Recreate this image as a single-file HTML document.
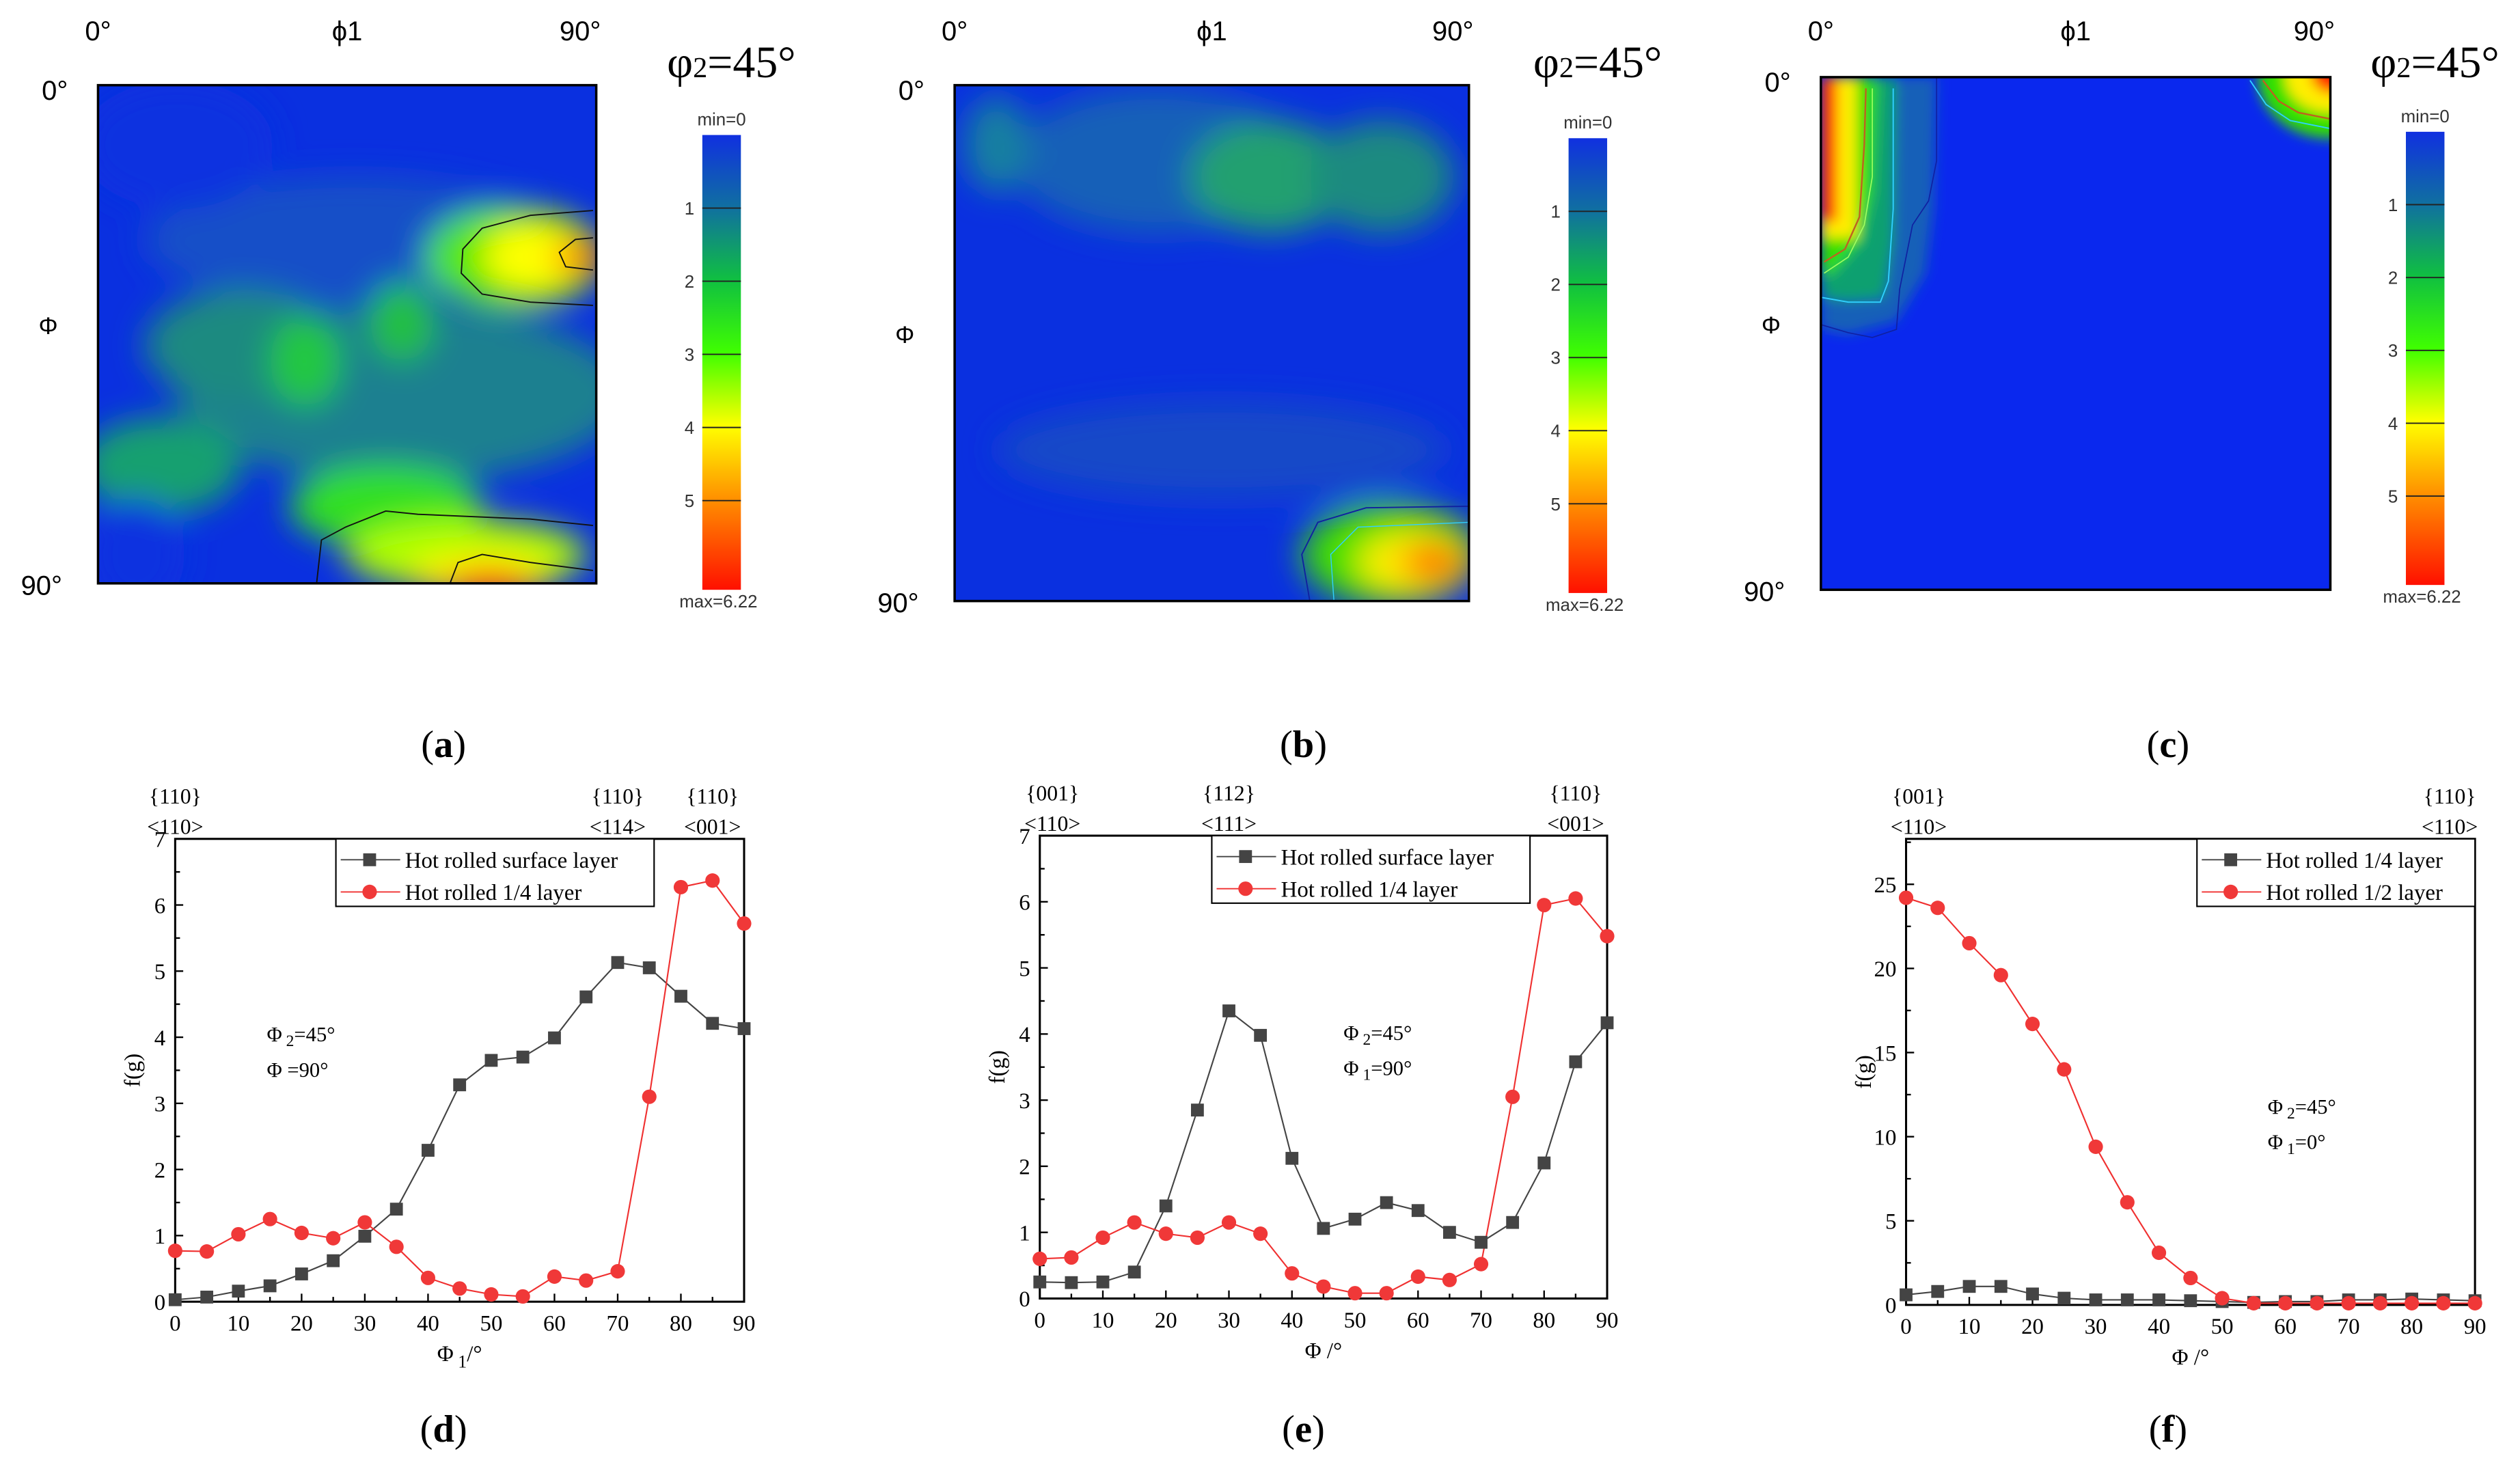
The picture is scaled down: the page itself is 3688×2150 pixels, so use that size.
<!DOCTYPE html>
<html><head><meta charset="utf-8">
<style>
html,body{margin:0;padding:0;background:#fff;}
#root{width:1568px;height:909px;transform:scale(2.35204);transform-origin:0 0;position:relative;}
svg text{font-family:"Liberation Serif",serif;}
.sans{font-family:"Liberation Sans",sans-serif;}
</style></head>
<body>
<div id="root">
<svg id="fig" width="1568" height="909" viewBox="0 0 1568 909" xmlns="http://www.w3.org/2000/svg">
<defs>
<linearGradient id="cbar" x1="0" y1="0" x2="0" y2="1">
<stop offset="0" stop-color="#1030e0"/>
<stop offset="0.16" stop-color="#1070a0"/>
<stop offset="0.32" stop-color="#10c040"/>
<stop offset="0.48" stop-color="#40ff00"/>
<stop offset="0.64" stop-color="#ffff00"/>
<stop offset="0.8" stop-color="#ff9000"/>
<stop offset="1" stop-color="#ff1000"/>
</linearGradient>
<filter id="blur" x="-50%" y="-50%" width="200%" height="200%"><feGaussianBlur stdDeviation="10"/></filter>
<filter id="blurS" x="-50%" y="-50%" width="200%" height="200%"><feGaussianBlur stdDeviation="6"/></filter>
<filter id="blur2" x="-50%" y="-50%" width="200%" height="200%"><feGaussianBlur stdDeviation="4"/></filter>
<clipPath id="clipA"><rect x="61" y="53" width="310" height="310"/></clipPath>
<clipPath id="clipB"><rect x="594" y="53" width="320" height="321"/></clipPath>
<clipPath id="clipC"><rect x="1133" y="48" width="317" height="319"/></clipPath>
</defs>

<!-- Heatmap A -->
<g>
<g clip-path="url(#clipA)">
<rect x="61" y="53" width="310" height="310" fill="#0a30e0"/>
<g filter="url(#blur)">
<ellipse cx="220" cy="150" rx="130" ry="40" fill="#1450c8"/>
<ellipse cx="250" cy="245" rx="140" ry="55" fill="#1a8090"/>
<ellipse cx="150" cy="215" rx="60" ry="35" fill="#1a8a80"/>
<ellipse cx="100" cy="290" rx="50" ry="30" fill="#18a070"/>
<ellipse cx="190" cy="225" rx="22" ry="28" fill="#20c840"/>
<ellipse cx="250" cy="200" rx="20" ry="25" fill="#20c040"/>
<ellipse cx="320" cy="160" rx="55" ry="32" fill="#50e800"/>
<ellipse cx="335" cy="160" rx="35" ry="22" fill="#ffff00"/>
<ellipse cx="360" cy="160" rx="16" ry="12" fill="#ff9000"/>
<ellipse cx="240" cy="315" rx="60" ry="25" fill="#30e020"/>
<ellipse cx="290" cy="345" rx="75" ry="22" fill="#b0ff00"/>
<ellipse cx="300" cy="358" rx="45" ry="14" fill="#ffee00"/>
<ellipse cx="305" cy="365" rx="25" ry="9" fill="#ff2000"/>
<ellipse cx="85" cy="345" rx="30" ry="35" fill="#0a30e0"/>
<ellipse cx="110" cy="90" rx="60" ry="40" fill="#0a30e0"/>
</g>
<path d="M369,131 L330,134 L300,142 L288,155 L287,170 L300,183 L330,188 L369,190" fill="none" stroke="#111" stroke-width="0.8"/>
<path d="M369,148 L358,149 L348,157 L352,166 L369,168" fill="none" stroke="#111" stroke-width="0.8"/>
<path d="M197,363 L200,336 L215,328 L240,318 L260,320 L330,323 L369,327" fill="none" stroke="#111" stroke-width="0.8"/>
<path d="M280,363 L285,350 L300,345 L330,350 L369,355" fill="none" stroke="#111" stroke-width="0.8"/>
</g>
<rect x="61" y="53" width="310" height="310" fill="none" stroke="#000" stroke-width="1.5"/>
</g>

<!-- Heatmap B -->
<g>
<g clip-path="url(#clipB)">
<rect x="594" y="53" width="320" height="321" fill="#0a30e0"/>
<g filter="url(#blur)">
<ellipse cx="720" cy="100" rx="90" ry="45" fill="#1660b8"/>
<ellipse cx="790" cy="110" rx="50" ry="35" fill="#20a070"/>
<ellipse cx="860" cy="110" rx="45" ry="35" fill="#1a8a80"/>
<ellipse cx="620" cy="90" rx="20" ry="30" fill="#1880a0"/>
<ellipse cx="760" cy="280" rx="140" ry="30" fill="#1448c8"/>
<ellipse cx="865" cy="345" rx="55" ry="32" fill="#40e000"/>
<ellipse cx="880" cy="350" rx="35" ry="20" fill="#ffee00"/>
<ellipse cx="892" cy="350" rx="20" ry="12" fill="#ff7000"/>
</g>
<path d="M815,374 L810,345 L820,325 L850,316 L914,315" fill="none" stroke="#1020a0" stroke-width="0.8"/>
<path d="M830,374 L828,345 L845,328 L914,325" fill="none" stroke="#30d0ff" stroke-width="0.6"/>
</g>
<rect x="594" y="53" width="320" height="321" fill="none" stroke="#000" stroke-width="1.5"/>
</g>

<!-- Heatmap C -->
<g>
<g clip-path="url(#clipC)">
<rect x="1133" y="48" width="317" height="319" fill="#0a28ee"/>
<g filter="url(#blur2)">
<path d="M1133,48 L1205,48 L1203,130 L1198,170 L1180,200 L1150,208 L1133,205 Z" fill="#1460b8"/>
<path d="M1133,48 L1180,48 L1178,150 L1172,185 L1150,187 L1133,185 Z" fill="#10a070"/>
<path d="M1133,48 L1168,48 L1165,120 L1158,150 L1140,170 L1133,172 Z" fill="#30e000"/>
<rect x="1133" y="48" width="22" height="100" fill="#ffee00"/>
<rect x="1133" y="48" width="10" height="90" fill="#ff3000"/>
<ellipse cx="1450" cy="48" rx="45" ry="38" fill="#30e000"/>
<ellipse cx="1450" cy="48" rx="28" ry="22" fill="#ffee00"/>
<ellipse cx="1452" cy="46" rx="14" ry="12" fill="#ff2000"/>
</g>
<path d="M1133,202 L1150,207 L1165,210 L1180,205 L1182,180 L1190,140 L1200,125 L1205,100 L1205,48" fill="none" stroke="#1020a0" stroke-width="0.7"/>
<path d="M1133,185 L1150,188 L1170,188 L1175,175 L1178,130 L1178,55" fill="none" stroke="#30d0ff" stroke-width="0.8"/>
<path d="M1135,170 L1150,160 L1160,140 L1165,110 L1165,55" fill="none" stroke="#a0ff60" stroke-width="0.7"/>
<path d="M1135,163 L1148,155 L1157,135 L1160,90 L1161,55" fill="none" stroke="#c06020" stroke-width="1"/>
<path d="M1400,50 L1410,65 L1425,75 L1450,80" fill="none" stroke="#30d0ff" stroke-width="0.8"/>
<path d="M1408,50 L1418,63 L1430,70 L1450,74" fill="none" stroke="#c06020" stroke-width="1"/>
</g>
<rect x="1133" y="48" width="317" height="319" fill="none" stroke="#000" stroke-width="1.5"/>
</g>

<g id="mapLabels"></g>
<g id="charts"></g>
</svg>
</div>
<script>
// ---- chart data ----
const xCats = [0,5,10,15,20,25,30,35,40,45,50,55,60,65,70,75,80,85,90];
const dSurface = [0.03,0.07,0.16,0.24,0.42,0.62,0.99,1.4,2.29,3.28,3.65,3.7,3.99,4.61,5.13,5.05,4.62,4.21,4.13];
const dQuarter = [0.77,0.76,1.02,1.25,1.04,0.96,1.2,0.83,0.36,0.2,0.11,0.08,0.38,0.32,0.46,3.1,6.27,6.37,5.72];
const eSurface = [0.25,0.24,0.25,0.4,1.4,2.85,4.35,3.98,2.12,1.06,1.2,1.45,1.33,1.0,0.85,1.15,2.05,3.58,4.17];
const eQuarter = [0.6,0.62,0.92,1.15,0.98,0.92,1.15,0.98,0.38,0.18,0.08,0.08,0.33,0.28,0.52,3.05,5.95,6.05,5.48];
const fQuarter = [0.6,0.8,1.1,1.1,0.65,0.4,0.3,0.3,0.3,0.25,0.2,0.15,0.2,0.2,0.3,0.3,0.35,0.3,0.25];
const fHalf = [24.2,23.6,21.5,19.6,16.7,14.0,9.4,6.1,3.1,1.6,0.4,0.1,0.1,0.1,0.1,0.1,0.1,0.1,0.1];
const xTicks = [0,10,20,30,40,50,60,70,80,90];
const yTicksDE = [0,1,2,3,4,5,6,7];
const yTicksF = [0,5,10,15,20,25];
const cbarTicks = [1,2,3,4,5];

const NS = "http://www.w3.org/2000/svg";
function mk(tag, attrs, parent, text){
  const el = document.createElementNS(NS, tag);
  for (const k in attrs) el.setAttribute(k, attrs[k]);
  if (text !== undefined) el.textContent = text;
  parent.appendChild(el);
  return el;
}

// ---- map labels & colorbars ----
const ml = document.getElementById('mapLabels');
const maps = [
  {x0:61,y0:53,x1:371,y1:363,cb:[437,84,24,283],lab:'(a)',lx:276},
  {x0:594,y0:53,x1:914,y1:374,cb:[976,86,24,283],lab:'(b)',lx:811},
  {x0:1133,y0:48,x1:1450,y1:367,cb:[1497,82,24,282],lab:'(c)',lx:1349}
];
maps.forEach((m,i)=>{
  const g = mk('g',{},ml);
  
  
  const t1 = mk('text',{x:m.x0,y:25,'font-size':17,'text-anchor':'middle',class:'sans'},g,'0°');
   
  const t2 = mk('text',{x:(m.x0+m.x1)/2,y:25,'font-size':17,'text-anchor':'middle',class:'sans'},g,'ϕ1');
   
  const t3 = mk('text',{x:m.x1-10,y:25,'font-size':17,'text-anchor':'middle',class:'sans'},g,'90°');
   
  const t4 = mk('text',{x:m.x0-35,y:m.y0+9,'font-size':17,class:'sans'},g,'0°');
   
  const t5 = mk('text',{x:m.x0-37,y:(m.y0+m.y1)/2,'font-size':15,class:'sans'},g,'Φ');
   
  const t6 = mk('text',{x:m.x0-48,y:m.y1+7,'font-size':17,class:'sans'},g,'90°');
   
  const t7 = mk('text',{x:m.cb[0]-22,y:48,'font-size':28},g,'');
  t7.innerHTML = 'φ<tspan font-size="18">2</tspan>=45°';
   
  const [cx,cy,cw,ch] = m.cb;
  const r = mk('rect',{x:cx,y:cy,width:cw,height:ch,fill:'url(#cbar)'},g);
   
  const tmn = mk('text',{x:cx+cw/2,y:cy-6,'font-size':11,'text-anchor':'middle',class:'sans',fill:'#333'},g,'min=0');
   
  const tmx = mk('text',{x:cx+cw/2-2,y:cy+ch+11,'font-size':11,'text-anchor':'middle',class:'sans',fill:'#333'},g,'max=6.22');
   
  cbarTicks.forEach(v=>{
    const yy = cy + ch*v/6.22;
    const l = mk('line',{x1:cx,x2:cx+cw,y1:yy,y2:yy,stroke:'#222','stroke-width':0.8},g);
     
    const tt = mk('text',{x:cx-5,y:yy+4,'font-size':11,'text-anchor':'end',class:'sans',fill:'#333'},g,String(v));
     
  });
  const pl = mk('text',{x:m.lx,y:471,'font-size':24,'text-anchor':'middle'},g,'');
  pl.innerHTML = '(<tspan font-weight="bold">'+m.lab[1]+'</tspan>)';
   
});

// ---- line charts ----
const charts = [
  {id:'d',L:109,R:463,T:522,B:810,ymax:7,yticks:yTicksDE,minor:0.5,s1:dSurface,s2:dQuarter,
   n1:'Hot rolled surface layer',n2:'Hot rolled 1/4 layer',legX:209,legW:198,
   ann:[['{110}','<110>',0],['{110}','<114>',70],['{110}','<001>',85]],
   p1:'Φ',p1s:'2',p1v:'=45°',p2:'Φ',p2s:'',p2v:' =90°',px:166,py:648,xlab:'Φ',xsub:'1',xl:'/°',lx:276},
  {id:'e',L:647,R:1000,T:520,B:808,ymax:7,yticks:yTicksDE,minor:0.5,s1:eSurface,s2:eQuarter,
   n1:'Hot rolled surface layer',n2:'Hot rolled 1/4 layer',legX:754,legW:198,
   ann:[['{001}','<110>',2],['{112}','<111>',30],['{110}','<001>',85]],
   p1:'Φ',p1s:'2',p1v:'=45°',p2:'Φ',p2s:'1',p2v:'=90°',px:836,py:647,xlab:'Φ',xsub:'',xl:' /°',lx:811},
  {id:'f',L:1186,R:1540,T:522,B:812,ymax:27.7,yticks:yTicksF,minor:2.5,s1:fQuarter,s2:fHalf,
   n1:'Hot rolled 1/4 layer',n2:'Hot rolled 1/2 layer',legX:1367,legW:173,
   ann:[['{001}','<110>',2],['{110}','<110>',86]],
   p1:'Φ',p1s:'2',p1v:'=45°',p2:'Φ',p2s:'1',p2v:'=0°',px:1411,py:693,xlab:'Φ',xsub:'',xl:' /°',lx:1349}
];
const cg = document.getElementById('charts');
charts.forEach(c=>{
  const g = mk('g',{},cg);
  
  
  const X = v => c.L + (c.R-c.L)*v/90;
  const Y = v => c.B - (c.B-c.T)*v/c.ymax;
  const frame = mk('rect',{x:c.L,y:c.T,width:c.R-c.L,height:c.B-c.T,fill:'none',stroke:'#000','stroke-width':1.3},g);
   
  for (let v=0; v<=90; v+=5){
    const maj = v%10===0;
    const t = mk('line',{x1:X(v),x2:X(v),y1:c.B,y2:c.B-(maj?5:3),stroke:'#000','stroke-width':1},g);
     
  }
  xTicks.forEach(v=>{
    const t = mk('text',{x:X(v),y:c.B+18,'font-size':14,'text-anchor':'middle'},g,String(v));
     
  });
  for (let v=0; v<=c.ymax; v+=c.minor){
    const maj = c.yticks.includes(v);
    const t = mk('line',{x1:c.L,x2:c.L+(maj?5:3),y1:Y(v),y2:Y(v),stroke:'#000','stroke-width':1},g);
     
  }
  c.yticks.forEach(v=>{
    const t = mk('text',{x:c.L-6,y:Y(v)+5,'font-size':14,'text-anchor':'end'},g,String(v));
     
  });
  const yl = mk('text',{x:0,y:0,'font-size':14,'text-anchor':'middle',transform:'translate('+(c.L-22)+','+((c.T+c.B)/2)+') rotate(-90)'},g,'f(g)');
   
  const xl = mk('text',{x:(c.L+c.R)/2,y:c.B+37,'font-size':14,'text-anchor':'middle'},g,'');
  xl.innerHTML = c.xlab+(c.xsub?'<tspan font-size="11" dy="4"> '+c.xsub+'</tspan><tspan dy="-4">'+c.xl+'</tspan>':c.xl);
   
  c.ann.forEach(a=>{
    const t1 = mk('text',{x:X(a[2]),y:c.T-22,'font-size':13.5,'text-anchor':'middle'},g,a[0]);
     
    const t2 = mk('text',{x:X(a[2]),y:c.T-3,'font-size':13.5,'text-anchor':'middle'},g,a[1]);
     
  });
  const s1pts = xCats.map((v,i)=>X(v)+','+Y(c.s1[i])).join(' ');
  const s2pts = xCats.map((v,i)=>X(v)+','+Y(c.s2[i])).join(' ');
  const l1 = mk('polyline',{points:s1pts,fill:'none',stroke:'#444','stroke-width':0.9},g);
   
  const l2 = mk('polyline',{points:s2pts,fill:'none',stroke:'#f03030','stroke-width':0.9},g);
   
  xCats.forEach((v,i)=>{
    const sq = mk('rect',{x:X(v)-4,y:Y(c.s1[i])-4,width:8,height:8,fill:'#444'},g);
     
  });
  xCats.forEach((v,i)=>{
    const ci = mk('circle',{cx:X(v),cy:Y(c.s2[i]),r:4.5,fill:'#f03838'},g);
     
  });
  const lg = mk('g',{},g);
   
  mk('rect',{x:c.legX,y:c.T,width:c.legW,height:42,fill:'#fff',stroke:'#000','stroke-width':0.9},lg);
  const e1 = mk('g',{},lg);
   
  mk('line',{x1:c.legX+3,x2:c.legX+40,y1:c.T+13,y2:c.T+13,stroke:'#444','stroke-width':0.8},e1);
  mk('rect',{x:c.legX+17,y:c.T+9,width:8,height:8,fill:'#444'},e1);
  mk('text',{x:c.legX+43,y:c.T+18,'font-size':14},e1,c.n1);
  const e2 = mk('g',{},lg);
   
  mk('line',{x1:c.legX+3,x2:c.legX+40,y1:c.T+33,y2:c.T+33,stroke:'#f03030','stroke-width':0.8},e2);
  mk('circle',{cx:c.legX+21,cy:c.T+33,r:4.5,fill:'#f03838'},e2);
  mk('text',{x:c.legX+43,y:c.T+38,'font-size':14},e2,c.n2);
  const a1 = mk('text',{x:c.px,y:c.py,'font-size':13},g,'');
  a1.innerHTML = c.p1+'<tspan font-size="10" dy="3"> '+c.p1s+'</tspan><tspan dy="-3">'+c.p1v+'</tspan>';
   
  const a2 = mk('text',{x:c.px,y:c.py+22,'font-size':13},g,'');
  a2.innerHTML = c.p2+(c.p2s?'<tspan font-size="10" dy="3"> '+c.p2s+'</tspan><tspan dy="-3">'+c.p2v+'</tspan>':c.p2v);
   
  const pl = mk('text',{x:c.lx,y:897,'font-size':24,'text-anchor':'middle'},g,'');
  pl.innerHTML = '(<tspan font-weight="bold">'+c.id+'</tspan>)';
   
});
</script>
</body></html>
